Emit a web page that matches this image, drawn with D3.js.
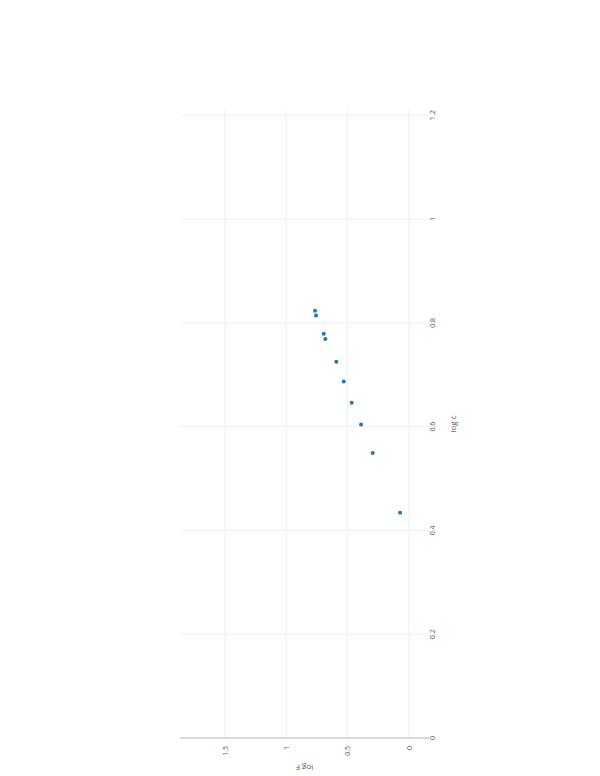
<!DOCTYPE html>
<html>
<head>
<meta charset="utf-8">
<script src="https://cdn.jsdelivr.net/npm/d3@7"></script>
<style>
  body { margin: 0; background: #fff; }
  text { font-family: "Open Sans", "DejaVu Sans", sans-serif; fill: #555; }
</style>
</head>
<body>
<svg id="chart" width="600" height="776"></svg>
<script>
// Data read from the (rotated) picture
const logC = [0.823, 0.814, 0.779, 0.769, 0.725, 0.687, 0.646, 0.604, 0.549, 0.434];
const logF = [0.766, 0.758, 0.695, 0.682, 0.593, 0.532, 0.467, 0.391, 0.296, 0.073];
const xTicks = [0, 0.2, 0.4, 0.6, 0.8, 1, 1.2];
const yTicks = [0, 0.5, 1, 1.5];
const xTickLabels = ["0", "0.2", "0.4", "0.6", "0.8", "1", "1.2"];
const yTickLabels = ["0", "0.5", "1", "1.5"];

const svg = d3.select("#chart");
// Whole chart drawn in an unrotated frame, then rotated 90° counter-clockwise
const g = svg.append("g").attr("transform", "translate(0,776) rotate(-90)");

const x = d3.scaleLinear().domain([0, 1.21]).range([38, 38 + 519 * 1.21]);
const y = d3.scaleLinear().domain([-0.163, 1.867]).range([429, 180]);

const [x0, x1] = x.range();
const [yb, yt] = y.range();

// grid lines
g.append("g").selectAll("line.vx").data(xTicks.filter(d => d !== 0)).join("line")
  .attr("x1", d => x(d)).attr("x2", d => x(d))
  .attr("y1", yt).attr("y2", yb)
  .attr("stroke", "#f0f0f0").attr("stroke-width", 1);
g.append("g").selectAll("line.hy").data(yTicks).join("line")
  .attr("x1", x0).attr("x2", x1)
  .attr("y1", d => y(d)).attr("y2", d => y(d))
  .attr("stroke", "#f0f0f0").attr("stroke-width", 1);

// zero line of log c
g.append("line")
  .attr("x1", x(0)).attr("x2", x(0))
  .attr("y1", yt).attr("y2", yb)
  .attr("stroke", "#cccccc").attr("stroke-width", 1.5);

// x tick labels
g.append("g").selectAll("text").data(xTicks).join("text")
  .attr("x", d => x(d)).attr("y", 435)
  .attr("text-anchor", "middle")
  .attr("font-size", 7)
  .text((d, i) => xTickLabels[i]);

// y tick labels
g.append("g").selectAll("text").data(yTicks).join("text")
  .attr("x", 30).attr("y", d => y(d) + 2.5)
  .attr("text-anchor", "end")
  .attr("font-size", 7)
  .text((d, i) => yTickLabels[i]);

// axis titles
g.append("text")
  .attr("x", (x0 + x1) / 2).attr("y", 456)
  .attr("text-anchor", "middle").attr("font-size", 8)
  .text("log c");
g.append("text")
  .attr("transform", `translate(11,${(yt + yb) / 2}) rotate(-90)`)
  .attr("text-anchor", "middle").attr("font-size", 8)
  .text("log F");

// points
g.append("g").selectAll("circle").data(logC).join("circle")
  .attr("cx", d => x(d))
  .attr("cy", (d, i) => y(logF[i]))
  .attr("r", 2)
  .attr("fill", "#1f77b4");
</script>
</body>
</html>
